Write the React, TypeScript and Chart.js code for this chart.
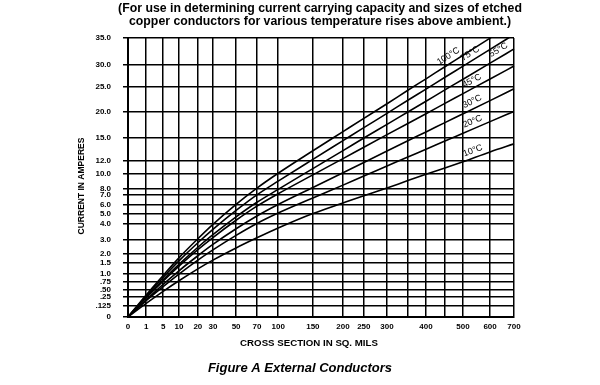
import React, { useEffect, useRef } from 'react';
import { Chart, Scale, registerables } from 'chart.js';

Chart.register(...registerables);

// ---- data ----
const crossSection = [0, 1, 5, 10, 20, 30, 50, 70, 100, 150, 200, 250, 300, 350, 400, 450, 500, 600, 700];
const rise10 = [0, 0.16, 0.46, 0.79, 1.23, 1.66, 2.41, 3.12, 3.75, 5.0, 6.17, 6.93, 8.09, 9.07, 9.9, 10.9, 11.9, 13.2, 14.25];
const rise20 = [0, 0.2, 0.61, 0.99, 1.66, 2.27, 3.28, 4.06, 5.05, 6.7, 8.47, 9.68, 11.2, 12.53, 13.55, 14.63, 15.93, 18.12, 20.04];
const rise30 = [0, 0.21, 0.68, 1.14, 1.89, 2.66, 3.7, 4.76, 6.0, 8.15, 10.14, 11.78, 13.31, 14.67, 16.18, 17.93, 19.59, 22.25, 24.68];
const rise45 = [0, 0.24, 0.78, 1.36, 2.29, 3.14, 4.36, 5.82, 7.2, 9.83, 12.32, 13.81, 15.66, 17.78, 19.6, 21.68, 23.67, 26.82, 29.71];
const rise55 = [0, 0.25, 0.82, 1.44, 2.46, 3.32, 4.68, 6.24, 7.89, 10.8, 13.37, 15.02, 17.6, 19.94, 22.13, 24.43, 26.77, 30.3, 32.96];
const rise75 = [0, 0.29, 0.89, 1.62, 2.78, 3.66, 5.34, 7.03, 9.0, 12.22, 14.68, 16.99, 19.68, 22.32, 24.59, 27.2, 29.69, 32.87, 35.66];
const rise100 = [0, 0.33, 0.95, 1.78, 3.06, 3.98, 6.02, 8.07, 10.05, 13.35, 16.24, 18.74, 21.62, 24.35, 26.86, 29.56, 31.78, 34.98, 37.83];

const seriesValues = [rise10, rise20, rise30, rise45, rise55, rise75, rise100];
const seriesLabels = ['10°C', '20°C', '30°C', '45°C', '55°C', '75°C', '100°C'];
const seriesLabelAt = [545, 545, 545, 545, 650, 540, 470];

const xTickValues = [0, 1, 5, 10, 20, 30, 50, 70, 100, 150, 200, 250, 300, 350, 400, 450, 500, 600, 700];
const xTickLabels = ['0', '1', '5', '10', '20', '30', '50', '70', '100', '150', '200', '250', '300', '', '400', '', '500', '600', '700'];
const xTickFractions = [0, 0.047, 0.091, 0.132, 0.181, 0.22, 0.28, 0.334, 0.389, 0.479, 0.557, 0.611, 0.671, 0.725, 0.772, 0.821, 0.868, 0.938, 1];

const yTickValues = [0, 0.125, 0.25, 0.5, 0.75, 1, 1.5, 2, 3, 4, 5, 6, 7, 8, 10, 12, 15, 20, 25, 30, 35];
const yTickLabels = ['0', '.125', '.25', '.50', '.75', '1.0', '1.5', '2.0', '3.0', '4.0', '5.0', '6.0', '7.0', '8.0', '10.0', '12.0', '15.0', '20.0', '25.0', '30.0', '35.0'];
const yTickFractions = [0, 0.04, 0.071, 0.096, 0.125, 0.155, 0.193, 0.227, 0.277, 0.333, 0.371, 0.403, 0.437, 0.46, 0.514, 0.559, 0.641, 0.736, 0.824, 0.904, 1];

const titleLines = [
  '(For use in determining current carrying capacity and sizes of etched',
  'copper conductors for various temperature rises above ambient.)',
];
const xAxisTitle = 'CROSS SECTION IN SQ. MILS';
const yAxisTitle = 'CURRENT IN AMPERES';
const caption = 'Figure A External Conductors';

// ---- piecewise (chart-paper) scale ----
function interp(v: number, xs: number[], fs: number[]) {
  const n = xs.length;
  let i = 0;
  if (v >= xs[n - 1]) i = n - 2;
  else if (v > xs[0]) {
    while (i < n - 2 && v > xs[i + 1]) i++;
  }
  const t = (v - xs[i]) / (xs[i + 1] - xs[i]);
  return fs[i] + t * (fs[i + 1] - fs[i]);
}

function makeScale(id: string, values: number[], fractions: number[], labels: string[]) {
  class PiecewiseScale extends (Scale as any) {
    static id = id;
    static defaults = {};
    determineDataLimits() {
      this.min = values[0];
      this.max = values[values.length - 1];
    }
    buildTicks() {
      return values.map((v) => ({ value: v }));
    }
    generateTickLabels(ticks: any[]) {
      ticks.forEach((t, i) => {
        t.label = labels[i];
      });
    }
    getLabelForValue(v: number) {
      return String(v);
    }
    getPixelForValue(v: number) {
      return this.getPixelForDecimal(interp(v, values, fractions));
    }
    getPixelForTick(i: number) {
      return this.getPixelForValue(this.ticks[i].value);
    }
    getValueForPixel(p: number) {
      return interp(this.getDecimalForPixel(p), fractions, values);
    }
  }
  return PiecewiseScale;
}

const XScale = makeScale('paperX', xTickValues, xTickFractions, xTickLabels);
const YScale = makeScale('paperY', yTickValues, yTickFractions, yTickLabels);
Chart.register(XScale as any, YScale as any);

const FONT = '"Liberation Sans", Arial, sans-serif';

const textPlugin = {
  id: 'paperText',
  afterDatasetsDraw(chart: any) {
    const { ctx, scales } = chart;
    ctx.save();
    ctx.fillStyle = '#000';
    ctx.font = `9px ${FONT}`;
    seriesLabels.forEach((txt, di) => {
      const pts = chart.getDatasetMeta(di).data;
      const px = scales.x.getPixelForValue(seriesLabelAt[di]);
      for (let i = 0; i < pts.length - 1; i++) {
        const a = pts[i];
        const b = pts[i + 1];
        if (px >= a.x && px <= b.x) {
          const t = (px - a.x) / (b.x - a.x);
          const py = a.y + t * (b.y - a.y);
          const ang = Math.atan2(b.y - a.y, b.x - a.x);
          ctx.save();
          ctx.translate(px, py);
          ctx.rotate(ang);
          ctx.textAlign = 'center';
          ctx.textBaseline = 'bottom';
          ctx.fillText(txt, 0, -2.5);
          ctx.restore();
          break;
        }
      }
    });
    ctx.restore();
  },
  afterDraw(chart: any) {
    const { ctx, chartArea } = chart;
    ctx.save();
    ctx.fillStyle = '#000';
    ctx.textAlign = 'center';
    ctx.textBaseline = 'middle';
    ctx.font = `bold 12.3px ${FONT}`;
    ctx.fillText(titleLines[0], 320, 9);
    ctx.fillText(titleLines[1], 320, 22);
    ctx.font = `bold 9.7px ${FONT}`;
    ctx.fillText(xAxisTitle, chartArea.left + 181, chartArea.bottom + 26);
    ctx.save();
    ctx.translate(chartArea.left - 46, 186);
    ctx.rotate(-Math.PI / 2);
    ctx.font = `bold 8.5px ${FONT}`;
    ctx.fillText(yAxisTitle, 0, 0);
    ctx.restore();
    ctx.font = `italic bold 13px ${FONT}`;
    ctx.fillText(caption, 300, 368);
    ctx.restore();
  },
};

export default function App() {
  const ref = useRef<HTMLCanvasElement>(null);
  useEffect(() => {
    if (!ref.current) return;
    const chart = new Chart(ref.current, {
      type: 'line',
      data: {
        datasets: seriesValues.map((vals, si) => ({
          label: seriesLabels[si],
          data: crossSection.map((x, i) => ({ x, y: vals[i] })),
          borderColor: '#000',
          borderWidth: 1.6,
          pointRadius: 0,
          fill: false,
          cubicInterpolationMode: 'monotone',
        })),
      },
      options: {
        responsive: false,
        animation: false,
        events: [],
        layout: { padding: { top: 38, right: 86, left: 0, bottom: 0 } },
        plugins: { legend: { display: false }, tooltip: { enabled: false }, title: { display: false } },
        scales: {
          x: {
            type: 'paperX' as any,
            position: 'bottom',
            afterFit: (s: any) => {
              s.height = 68;
            },
            grid: { color: '#000', lineWidth: 1.5, drawTicks: false },
            border: { display: true, color: '#000', width: 2 },
            ticks: {
              autoSkip: false,
              maxRotation: 0,
              minRotation: 0,
              padding: 5,
              color: '#000',
              font: { family: FONT, size: 8, weight: 'bold' },
            },
          },
          y: {
            type: 'paperY' as any,
            position: 'left',
            afterFit: (s: any) => {
              s.width = 128;
            },
            grid: { color: '#000', lineWidth: 1.5, drawTicks: true, tickLength: 5 },
            border: { display: true, color: '#000', width: 2 },
            ticks: {
              autoSkip: false,
              padding: 12,
              color: '#000',
              font: { family: FONT, size: 8, weight: 'bold' },
            },
          },
        } as any,
      },
      plugins: [textPlugin],
    } as any);
    return () => chart.destroy();
  }, []);
  return (
    <div style={{ position: 'fixed', left: 0, top: 0, width: 600, height: 385, background: '#fff' }}>
      <canvas ref={ref} width={600} height={385} style={{ width: 600, height: 385 }} />
    </div>
  );
}
